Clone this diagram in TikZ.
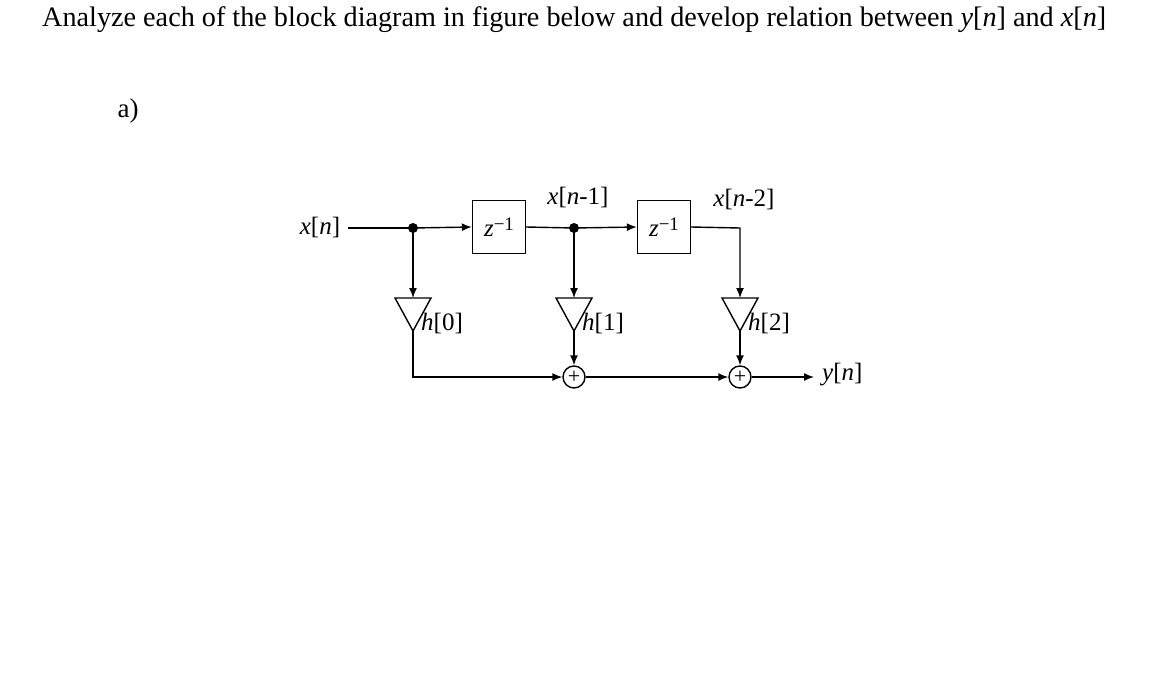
\documentclass[tikz,border=0pt]{standalone}
\usepackage{fontspec}
\setmainfont{Liberation Serif}
\usetikzlibrary{arrows.meta}
\newcommand{\zinv}{\textit{z}\raisebox{0.55ex}{\fontsize{19}{19}\selectfont −1}}
\begin{document}
\begin{tikzpicture}[x=1pt,y=-1pt,
  ln/.style={line width=1.4pt},
  arr/.style={ln,-{Latex[length=10pt,width=8pt]}},
  lab/.style={font=\fontsize{25}{27}\selectfont,inner sep=0},
  dlybox/.style={draw,line width=1.4pt,minimum width=53pt,minimum height=53pt,inner sep=0,font=\fontsize{25}{27}\selectfont},
  adder/.style={draw,circle,line width=1.4pt,minimum size=22pt,inner sep=0,font=\fontsize{22}{22}\selectfont},
  dotn/.style={circle,fill,minimum size=10pt,inner sep=0}]
\useasboundingbox (0,0) rectangle (1151,688);
\node[anchor=west,font=\fontsize{28.2}{30}\selectfont,inner sep=0] (title) at (42,20) {Analyze each of the block diagram in figure below and develop relation between \textit{y}[\textit{n}] and \textit{x}[\textit{n}]};
\node[lab,font=\fontsize{27}{29}\selectfont] (a) at (128,111) {a)};
\node[lab] (xn) at (320,227) {\textit{x}[\textit{n}]};
\node[dotn] (d1) at (413,228) {};
\node[dlybox] (b1) at (499,227) {\zinv};
\node[dotn] (d2) at (574,228) {};
\node[dlybox] (b2) at (664,227) {\zinv};
\coordinate (c2) at (740,228);
\node[lab] (l1) at (578,197) {\textit{x}[\textit{n}-1]};
\node[lab] (l2) at (744,199) {\textit{x}[\textit{n}-2]};
\foreach \n/\x in {0/413,1/574,2/740}{
  \coordinate (t\n) at (\x,298);
  \coordinate (tip\n) at (\x,331);
  \draw[ln] (\x-18,298) -- (\x+18,298) -- (\x,331) -- cycle;
  \node[lab,anchor=west] (h\n) at (\x+8,323) {\textit{h}[\n]};
}
\node[adder] (s1) at (574,377) {+};
\node[adder] (s2) at (740,377) {+};
\coordinate (bl) at (413,377);
\coordinate (out) at (814,377);
\node[lab,anchor=west] (yn) at (822,375) {\textit{y}[\textit{n}]};
\draw[ln] (xn.east)++(8,1) -- (d1.center);
\draw[arr] (d1.center) -- (b1.west);
\draw[ln] (b1.east) -- (d2.center);
\draw[arr] (d2.center) -- (b2.west);
\draw[arr] (b2.east) -- (c2) -- (t2);
\draw[arr] (d1.center) -- (t0);
\draw[arr] (d2.center) -- (t1);
\draw[arr] (tip1) -- (s1.north);
\draw[arr] (tip2) -- (s2.north);
\draw[arr] (tip0) -- (bl) -- (s1.west);
\draw[arr] (s1.east) -- (s2.west);
\draw[arr] (s2.east) -- (out);
\end{tikzpicture}
\end{document}
